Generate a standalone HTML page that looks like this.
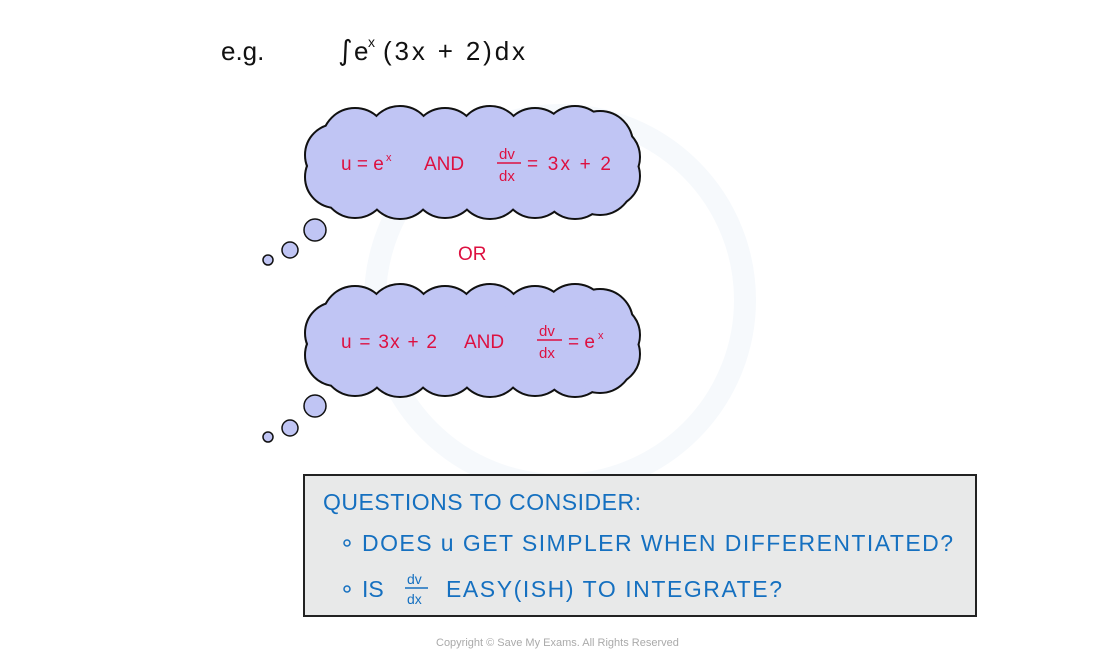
<!DOCTYPE html>
<html><head><meta charset="utf-8"><style>
html,body{margin:0;padding:0;background:#fff;}
svg{display:block;font-family:"Liberation Sans",sans-serif;}
</style></head><body>
<svg width="1100" height="663" viewBox="0 0 1100 663" xmlns="http://www.w3.org/2000/svg">
<defs>
<g id="cloud">
  <circle cx="355" cy="141" r="32"/><circle cx="400" cy="139" r="32"/><circle cx="445" cy="141" r="32"/>
  <circle cx="490" cy="139" r="32"/><circle cx="535" cy="141" r="32"/><circle cx="575" cy="139" r="32"/>
  <circle cx="600" cy="144" r="32"/>
  <circle cx="355" cy="185" r="32"/><circle cx="400" cy="186" r="32"/><circle cx="445" cy="185" r="32"/>
  <circle cx="490" cy="186" r="32"/><circle cx="535" cy="185" r="32"/><circle cx="575" cy="186" r="32"/>
  <circle cx="600" cy="182" r="32"/>
  <circle cx="336" cy="155" r="30"/><circle cx="336" cy="177" r="30"/>
  <circle cx="609" cy="157" r="30"/><circle cx="609" cy="176" r="30"/>
</g>
</defs>
<!-- watermark -->
<circle cx="560" cy="300" r="185" fill="none" stroke="#f6f9fc" stroke-width="22"/>
<g stroke="#111" stroke-width="4" fill="#111"><use href="#cloud"/></g>
<g fill="#c0c5f4"><use href="#cloud"/></g>
<g transform="translate(0,178)">
<g stroke="#111" stroke-width="4" fill="#111"><use href="#cloud"/></g>
<g fill="#c0c5f4"><use href="#cloud"/></g>
</g>
<g fill="#c0c5f4" stroke="#111" stroke-width="1.5">
<circle cx="315" cy="230" r="11"/><circle cx="290" cy="250" r="8"/><circle cx="268" cy="260" r="5"/>
<circle cx="315" cy="406" r="11"/><circle cx="290" cy="428" r="8"/><circle cx="268" cy="437" r="5"/>
</g>
<!-- header -->
<text x="221" y="60" font-size="26" fill="#111">e.g.</text>
<text x="338" y="60" font-size="28" fill="#111" font-family="DejaVu Sans, sans-serif">∫</text>
<text x="354" y="60" font-size="26" fill="#111">e</text>
<text x="368" y="47" font-size="14" fill="#111">x</text>
<text x="383" y="60" font-size="26" fill="#111" textLength="142">(3x + 2)dx</text>
<g fill="#dd1040" font-size="19">
<text x="341" y="170">u = e</text><text x="386" y="161" font-size="11">x</text>
<text x="424" y="170">AND</text>
<text x="499" y="159" font-size="15">dv</text>
<line x1="497" y1="163" x2="521" y2="163" stroke="#dd1040" stroke-width="1.5"/>
<text x="499" y="181" font-size="15">dx</text>
<text x="527" y="170" textLength="84">= 3x + 2</text>
<text x="458" y="260">OR</text>
<text x="341" y="348" textLength="96">u = 3x + 2</text>
<text x="464" y="348">AND</text>
<text x="539" y="336" font-size="15">dv</text>
<line x1="537" y1="340" x2="562" y2="340" stroke="#dd1040" stroke-width="1.5"/>
<text x="539" y="358" font-size="15">dx</text>
<text x="568" y="348">= e</text><text x="598" y="339" font-size="11">x</text>
</g>
<rect x="304" y="475" width="672" height="141" fill="#e8e9e9" stroke="#222" stroke-width="2"/>
<g fill="#1570c0" font-size="23">
<text x="323" y="510" textLength="318">QUESTIONS  TO  CONSIDER:</text>
<circle cx="347" cy="543" r="3" fill="none" stroke="#1570c0" stroke-width="1.5"/>
<text x="362" y="551" textLength="591">DOES  u  GET  SIMPLER  WHEN  DIFFERENTIATED?</text>
<circle cx="347" cy="589" r="3" fill="none" stroke="#1570c0" stroke-width="1.5"/>
<text x="362" y="597">IS</text>
<text x="407" y="584" font-size="14">dv</text>
<line x1="405" y1="588" x2="428" y2="588" stroke="#1570c0" stroke-width="1.5"/>
<text x="407" y="604" font-size="14">dx</text>
<text x="446" y="597" textLength="336">EASY(ISH)  TO  INTEGRATE?</text>
</g>
<text x="436" y="646" font-size="11" fill="#aaa">Copyright © Save My Exams. All Rights Reserved</text>
</svg>
</body></html>
